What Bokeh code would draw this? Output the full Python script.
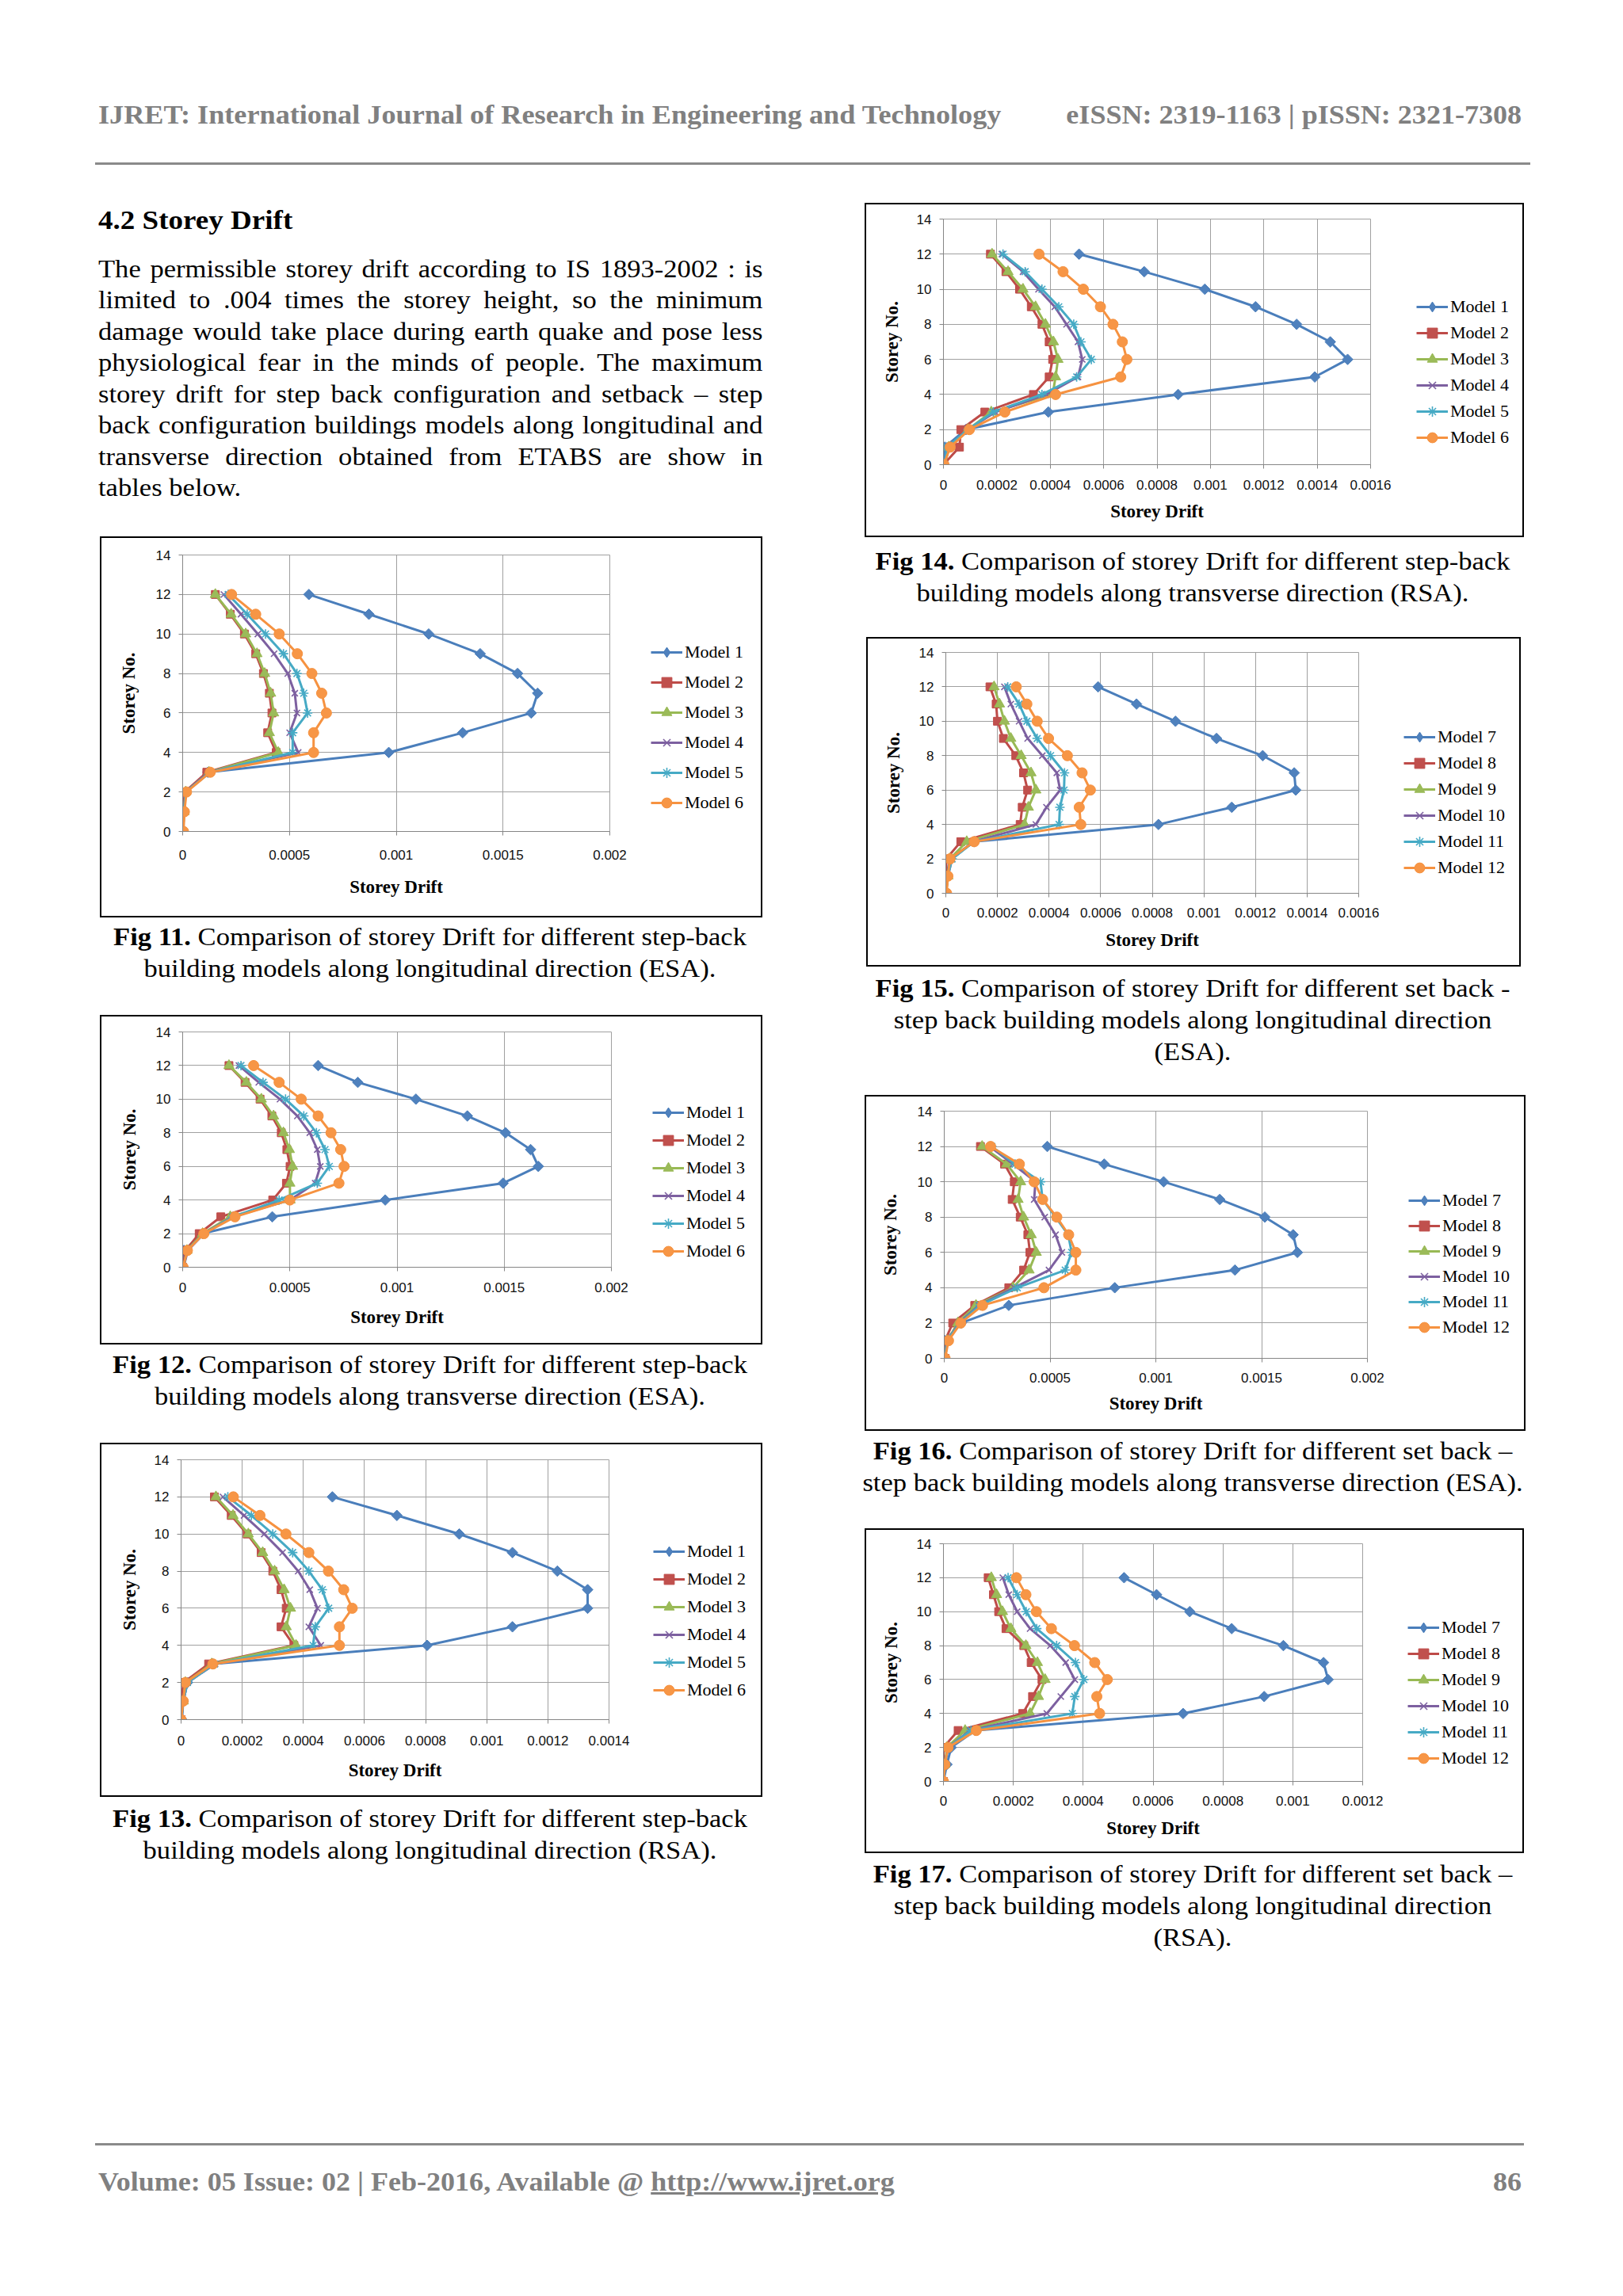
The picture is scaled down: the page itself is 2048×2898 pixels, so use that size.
import math
from bokeh.plotting import figure
from bokeh.models import (Range1d, FixedTicker, CustomJSTickFormatter, Legend,
                          LegendItem, Div, Spacer)
from bokeh.layouts import column, row
from bokeh.embed import file_html
from bokeh.resources import INLINE

# ---------------------------------------------------------------- data
STOREY = [0, 1, 2, 3, 4, 5, 6, 7, 8, 9, 10, 11, 12]
Y_TICKS = [0, 2, 4, 6, 8, 10, 12, 14]
Y_TICK_LABELS = ["0", "2", "4", "6", "8", "10", "12", "14"]

X_TICKS_0020 = [0, 0.0005, 0.001, 0.0015, 0.002]
X_LABELS_0020 = ["0", "0.0005", "0.001", "0.0015", "0.002"]
X_TICKS_0014 = [0, 0.0002, 0.0004, 0.0006, 0.0008, 0.001, 0.0012, 0.0014]
X_LABELS_0014 = ["0", "0.0002", "0.0004", "0.0006", "0.0008", "0.001", "0.0012", "0.0014"]
X_TICKS_0016 = [0, 0.0002, 0.0004, 0.0006, 0.0008, 0.001, 0.0012, 0.0014, 0.0016]
X_LABELS_0016 = ["0", "0.0002", "0.0004", "0.0006", "0.0008", "0.001", "0.0012", "0.0014", "0.0016"]
X_TICKS_0012 = [0, 0.0002, 0.0004, 0.0006, 0.0008, 0.001, 0.0012]
X_LABELS_0012 = ["0", "0.0002", "0.0004", "0.0006", "0.0008", "0.001", "0.0012"]

MODELS_STEP_BACK = ["Model 1", "Model 2", "Model 3", "Model 4", "Model 5", "Model 6"]
MODELS_SET_BACK = ["Model 7", "Model 8", "Model 9", "Model 10", "Model 11", "Model 12"]

# Fig 11 - step back, longitudinal, ESA (storey 0 .. 12)
F11_M1 = [0.000002, 0.000004, 0.000014, 0.000118, 0.000965, 0.001311, 0.001632, 0.001662, 0.001568, 0.001393, 0.001152, 0.000872, 0.000591]
F11_M2 = [0.0, 0.000002, 0.000010, 0.000113, 0.000438, 0.000398, 0.000418, 0.000406, 0.000378, 0.000342, 0.000289, 0.000223, 0.000153]
F11_M3 = [0.000002, 0.000006, 0.000014, 0.000123, 0.000448, 0.000406, 0.000426, 0.000412, 0.000384, 0.000348, 0.000295, 0.000227, 0.000153]
F11_M4 = [0.000002, 0.000006, 0.000014, 0.000123, 0.000541, 0.000501, 0.000535, 0.000525, 0.000492, 0.000428, 0.000352, 0.000273, 0.000193]
F11_M5 = [0.000002, 0.000006, 0.000014, 0.000129, 0.000515, 0.000515, 0.000585, 0.000567, 0.000535, 0.000472, 0.000388, 0.000302, 0.000213]
F11_M6 = [0.000004, 0.000008, 0.000018, 0.000129, 0.000613, 0.000613, 0.000673, 0.000651, 0.000605, 0.000537, 0.000452, 0.000342, 0.000229]

# Fig 12 - step back, transverse, ESA
F12_M1 = [0.0, 0.000006, 0.000093, 0.000418, 0.000945, 0.001495, 0.001659, 0.001623, 0.001506, 0.001328, 0.001088, 0.000817, 0.000632]
F12_M2 = [0.0, 0.000014, 0.000077, 0.000178, 0.000420, 0.000484, 0.000501, 0.000486, 0.000460, 0.000416, 0.000361, 0.000291, 0.000216]
F12_M3 = [0.000004, 0.000020, 0.000093, 0.000222, 0.000501, 0.000500, 0.000513, 0.000498, 0.000470, 0.000424, 0.000367, 0.000297, 0.000216]
F12_M4 = [0.000004, 0.000024, 0.000099, 0.000232, 0.000500, 0.000618, 0.000642, 0.000628, 0.000593, 0.000535, 0.000454, 0.000355, 0.000262]
F12_M5 = [0.000004, 0.000020, 0.000099, 0.000236, 0.000450, 0.000628, 0.000684, 0.000664, 0.000624, 0.000565, 0.000480, 0.000375, 0.000272]
F12_M6 = [0.000002, 0.000022, 0.000099, 0.000244, 0.000500, 0.000729, 0.000753, 0.000737, 0.000692, 0.000632, 0.000553, 0.000450, 0.000331]

# Fig 13 - step back, longitudinal, RSA
F13_M1 = [0.000003, 0.000007, 0.000021, 0.000104, 0.000805, 0.001084, 0.001330, 0.001330, 0.001231, 0.001084, 0.000910, 0.000706, 0.000495]
F13_M2 = [0.0, 0.0, 0.000008, 0.000090, 0.000369, 0.000327, 0.000344, 0.000327, 0.000300, 0.000262, 0.000216, 0.000164, 0.000109]
F13_M3 = [0.0, 0.000007, 0.000014, 0.000100, 0.000376, 0.000344, 0.000358, 0.000337, 0.000306, 0.000267, 0.000220, 0.000170, 0.000114]
F13_M4 = [0.0, 0.000007, 0.000021, 0.000111, 0.000457, 0.000418, 0.000446, 0.000421, 0.000383, 0.000332, 0.000272, 0.000206, 0.000137]
F13_M5 = [0.0, 0.000007, 0.000021, 0.000109, 0.000432, 0.000439, 0.000483, 0.000462, 0.000418, 0.000365, 0.000300, 0.000230, 0.000153]
F13_M6 = [0.0, 0.000007, 0.000014, 0.000104, 0.000518, 0.000518, 0.000560, 0.000532, 0.000482, 0.000418, 0.000343, 0.000258, 0.000171]

# Fig 14 - step back, transverse, RSA
F14_M1 = [0.0, 0.000005, 0.000084, 0.000393, 0.000879, 0.001391, 0.001514, 0.001449, 0.001323, 0.001169, 0.000979, 0.000752, 0.000508]
F14_M2 = [0.0, 0.000060, 0.000065, 0.000155, 0.000337, 0.000396, 0.000409, 0.000396, 0.000369, 0.000329, 0.000285, 0.000234, 0.000176]
F14_M3 = [0.000005, 0.000020, 0.000092, 0.000179, 0.000409, 0.000420, 0.000429, 0.000412, 0.000382, 0.000345, 0.000298, 0.000242, 0.000182]
F14_M4 = [0.000005, 0.000020, 0.000092, 0.000195, 0.000385, 0.000504, 0.000520, 0.000504, 0.000461, 0.000417, 0.000356, 0.000298, 0.000219]
F14_M5 = [0.000005, 0.000013, 0.000092, 0.000187, 0.000369, 0.000499, 0.000554, 0.000515, 0.000488, 0.000432, 0.000369, 0.000306, 0.000223]
F14_M6 = [0.000002, 0.000025, 0.000097, 0.000230, 0.000420, 0.000664, 0.000687, 0.000670, 0.000635, 0.000588, 0.000524, 0.000448, 0.000358]

# Fig 15 - set back / step back, longitudinal, ESA
F15_M7 = [0.0, 0.000003, 0.000016, 0.000110, 0.000824, 0.001108, 0.001356, 0.001350, 0.001228, 0.001049, 0.000890, 0.000739, 0.000590]
F15_M8 = [0.0, 0.0, 0.000002, 0.000058, 0.000288, 0.000296, 0.000317, 0.000301, 0.000271, 0.000223, 0.000200, 0.000195, 0.000171]
F15_M9 = [0.0, 0.000008, 0.000016, 0.000081, 0.000305, 0.000320, 0.000349, 0.000330, 0.000292, 0.000252, 0.000227, 0.000208, 0.000187]
F15_M10 = [0.0, 0.000008, 0.000024, 0.000106, 0.000349, 0.000390, 0.000443, 0.000430, 0.000374, 0.000317, 0.000284, 0.000252, 0.000227]
F15_M11 = [0.0, 0.000008, 0.000024, 0.000110, 0.000439, 0.000442, 0.000458, 0.000460, 0.000406, 0.000354, 0.000314, 0.000284, 0.000240]
F15_M12 = [0.000003, 0.000008, 0.000016, 0.000110, 0.000523, 0.000517, 0.000560, 0.000528, 0.000471, 0.000398, 0.000354, 0.000314, 0.000273]

# Fig 16 - set back / step back, transverse, ESA
F16_M7 = [0.0, 0.000004, 0.000080, 0.000305, 0.000806, 0.001374, 0.001669, 0.001649, 0.001515, 0.001302, 0.001037, 0.000756, 0.000487]
F16_M8 = [0.000004, 0.000004, 0.000040, 0.000144, 0.000305, 0.000375, 0.000405, 0.000395, 0.000359, 0.000321, 0.000331, 0.000285, 0.000171]
F16_M9 = [0.000004, 0.000014, 0.000064, 0.000150, 0.000325, 0.000401, 0.000435, 0.000411, 0.000375, 0.000349, 0.000361, 0.000295, 0.000179]
F16_M10 = [0.000004, 0.000014, 0.000070, 0.000164, 0.000331, 0.000495, 0.000556, 0.000526, 0.000475, 0.000425, 0.000431, 0.000325, 0.000215]
F16_M11 = [0.000004, 0.000014, 0.000074, 0.000169, 0.000345, 0.000572, 0.000602, 0.000586, 0.000526, 0.000465, 0.000455, 0.000335, 0.000225]
F16_M12 = [0.000004, 0.000020, 0.000078, 0.000181, 0.000471, 0.000622, 0.000622, 0.000588, 0.000532, 0.000465, 0.000425, 0.000355, 0.000219]

# Fig 17 - set back / step back, longitudinal, RSA
F17_M7 = [0.0, 0.000010, 0.000022, 0.000091, 0.000686, 0.000918, 0.001101, 0.001088, 0.000973, 0.000825, 0.000705, 0.000610, 0.000517]
F17_M8 = [0.0, 0.0, 0.0, 0.000042, 0.000227, 0.000255, 0.000282, 0.000251, 0.000230, 0.000179, 0.000158, 0.000143, 0.000128]
F17_M9 = [0.0, 0.000004, 0.000010, 0.000062, 0.000248, 0.000272, 0.000291, 0.000269, 0.000236, 0.000193, 0.000169, 0.000152, 0.000137]
F17_M10 = [0.0, 0.000004, 0.000013, 0.000076, 0.000296, 0.000336, 0.000376, 0.000350, 0.000306, 0.000248, 0.000211, 0.000187, 0.000170]
F17_M11 = [0.0, 0.000004, 0.000013, 0.000079, 0.000369, 0.000376, 0.000402, 0.000378, 0.000324, 0.000267, 0.000237, 0.000211, 0.000185]
F17_M12 = [0.0, 0.000004, 0.000013, 0.000094, 0.000447, 0.000439, 0.000469, 0.000433, 0.000375, 0.000309, 0.000266, 0.000236, 0.000209]

# ---------------------------------------------------------------- texts
HEADER_LEFT = "IJRET: International Journal of Research in Engineering and Technology"
HEADER_RIGHT = "eISSN: 2319-1163 | pISSN: 2321-7308"
SECTION_TITLE = "4.2 Storey Drift"
PARAGRAPH_LINES = [
    "The permissible storey drift according to IS 1893-2002 : is",
    "limited to .004 times the storey height, so the minimum",
    "damage would take place during earth quake and pose less",
    "physiological fear in the minds of people. The maximum",
    "storey drift for step back configuration and setback \u2013 step",
    "back configuration buildings models along longitudinal and",
    "transverse direction obtained from ETABS are show in",
    "tables below.",
]
CAP11 = ("Fig 11.", ["Comparison of storey Drift for different step-back",
                     "building models along longitudinal direction (ESA)."])
CAP12 = ("Fig 12.", ["Comparison of storey Drift for different step-back",
                     "building models along transverse direction (ESA)."])
CAP13 = ("Fig 13.", ["Comparison of storey Drift for different step-back",
                     "building models along longitudinal direction (RSA)."])
CAP14 = ("Fig 14.", ["Comparison of storey Drift for different step-back",
                     "building models along transverse direction (RSA)."])
CAP15 = ("Fig 15.", ["Comparison of storey Drift for different set back -",
                     "step back building models along longitudinal direction",
                     "(ESA)."])
CAP16 = ("Fig 16.", ["Comparison of storey Drift for different set back \u2013",
                     "step back building models along transverse direction (ESA)."])
CAP17 = ("Fig 17.", ["Comparison of storey Drift for different set back \u2013",
                     "step back building models along longitudinal direction",
                     "(RSA)."])
FOOTER_LEFT = 'Volume: 05 Issue: 02 | Feb-2016, Available @ <u>http://www.ijret.org</u>'
FOOTER_RIGHT = "86"

# ---------------------------------------------------------------- styles
LINE_COLORS = ["#4A7EBB", "#BE4B48", "#98B954", "#7D60A0", "#46AAC5", "#F69240"]
FILL_COLORS = ["#4F81BD", "#C0504D", "#9BBB59", "#8064A2", "#4BACC6", "#F79646"]
MARKERS = ["square", "square", "triangle", "x", "asterisk", "circle"]
LEGEND_MARKERS = ["diamond", "square", "triangle", "x", "asterisk", "circle"]
MARKER_SIZES = [9.5, 10, 13, 11, 12, 13]
MARKER_ANGLES = [math.pi / 4, 0, 0, 0, 0, 0]
GRID = "#a0a0a0"
AXIS = "#868686"
PAD_R = 30  # room right of the plot area for the last x tick label

FMT_CODE = """
let best = 0, bd = 1e9;
for (let i = 0; i < tv.length; i++) {
  const d = Math.abs(tv[i] - tick);
  if (d < bd) { bd = d; best = i; }
}
return tl[best];
"""


def add_series(p, series, i, markers):
    ln = p.line(series, STOREY, line_color=LINE_COLORS[i], line_width=3,
                line_join="round")
    mk = p.scatter(series, STOREY, marker=markers[i], size=MARKER_SIZES[i],
                   angle=MARKER_ANGLES[i] if markers is MARKERS else 0,
                   fill_color=FILL_COLORS[i], line_color=LINE_COLORS[i],
                   line_width=1.6 if markers[i] in ("x", "asterisk") else 1)
    return ln, mk


def make_chart(series, names, x_ticks, x_labels, W, H, borders, leg_xy,
               leg_spacing, xt_standoff, xl_standoff, yl_standoff):
    # W, H, borders describe the outer box (incl. its 2px black frame)
    l, r, t, b = borders
    fw = W - l - r
    w_in, h_in = W - 4, H - 4
    mw = (l - 2) + fw + PAD_R
    p = figure(width=mw, height=h_in, x_range=Range1d(0, x_ticks[-1]),
               y_range=Range1d(0, 14), output_backend="svg",
               toolbar_location=None, tools="",
               min_border_left=l - 2, min_border_right=PAD_R,
               min_border_top=t - 2, min_border_bottom=b - 2,
               background_fill_color="white", border_fill_color="white",
               outline_line_color=GRID, outline_line_width=1)
    xt = FixedTicker(ticks=x_ticks)
    yt = FixedTicker(ticks=Y_TICKS)
    p.xaxis.ticker = xt
    p.yaxis.ticker = yt
    p.xgrid.ticker = xt
    p.ygrid.ticker = yt
    p.grid.grid_line_color = GRID
    p.grid.grid_line_width = 1
    p.xaxis.formatter = CustomJSTickFormatter(args=dict(tv=x_ticks, tl=x_labels), code=FMT_CODE)
    p.yaxis.formatter = CustomJSTickFormatter(args=dict(tv=Y_TICKS, tl=Y_TICK_LABELS), code=FMT_CODE)
    p.xaxis.axis_label = "Storey Drift"
    p.yaxis.axis_label = "Storey No."
    for ax in (p.xaxis[0], p.yaxis[0]):
        ax.axis_line_color = AXIS
        ax.major_tick_line_color = AXIS
        ax.major_tick_out = 5
        ax.major_tick_in = 0
        ax.minor_tick_line_color = None
        ax.major_label_text_font = "Liberation Sans"
        ax.major_label_text_font_size = "17px"
        ax.major_label_text_color = "#111111"
        ax.axis_label_text_font = "Liberation Serif"
        ax.axis_label_text_font_style = "bold"
        ax.axis_label_text_font_size = "23px"
        ax.axis_label_text_color = "#000000"
    p.xaxis.major_label_standoff = xt_standoff
    p.yaxis.major_label_standoff = 10
    p.xaxis.axis_label_standoff = xl_standoff
    p.yaxis.axis_label_standoff = yl_standoff
    for i, vals in enumerate(series):
        add_series(p, vals, i, MARKERS)

    # legend panel: same series, ranges chosen so that only the legend shows
    lp = figure(width=w_in - mw, height=h_in, x_range=Range1d(1, 2),
                y_range=Range1d(100, 101), output_backend="svg",
                toolbar_location=None, tools="", x_axis_location=None,
                y_axis_location=None, min_border=0,
                background_fill_color="white", border_fill_color="white",
                outline_line_color=None)
    lp.grid.visible = False
    items = []
    for i, (vals, name) in enumerate(zip(series, names)):
        ln, mk = add_series(lp, vals, i, LEGEND_MARKERS)
        items.append(LegendItem(label=name, renderers=[ln, mk]))
    leg = Legend(items=items, location=leg_xy, orientation="vertical",
                 glyph_width=40, glyph_height=32, label_height=32,
                 spacing=leg_spacing, label_standoff=3, padding=0, margin=0,
                 border_line_color=None, background_fill_alpha=0,
                 label_text_font="Liberation Serif", label_text_font_size="22px",
                 label_text_color="#000000")
    lp.add_layout(leg)
    return p, lp


fig11 = make_chart([F11_M1, F11_M2, F11_M3, F11_M4, F11_M5, F11_M6], MODELS_STEP_BACK,
                   X_TICKS_0020, X_LABELS_0020, 836, 481, (104, 193, 23, 109),
                   (22, 20), 6, 18, 19, 19)
fig12 = make_chart([F12_M1, F12_M2, F12_M3, F12_M4, F12_M5, F12_M6], MODELS_STEP_BACK,
                   X_TICKS_0020, X_LABELS_0020, 836, 416, (104, 191, 21, 98),
                   (22, 4), 3, 14, 16, 18)
fig13 = make_chart([F13_M1, F13_M2, F13_M3, F13_M4, F13_M5, F13_M6], MODELS_STEP_BACK,
                   X_TICKS_0014, X_LABELS_0014, 836, 447, (102, 194, 21, 98),
                   (26, 21), 3, 15, 16, 16)
fig14 = make_chart([F14_M1, F14_M2, F14_M3, F14_M4, F14_M5, F14_M6], MODELS_STEP_BACK,
                   X_TICKS_0016, X_LABELS_0016, 832, 422, (99, 194, 20, 92),
                   (28, 18), 1, 14, 12, 16)
fig15 = make_chart([F15_M7, F15_M8, F15_M9, F15_M10, F15_M11, F15_M12], MODELS_SET_BACK,
                   X_TICKS_0016, X_LABELS_0016, 826, 416, (100, 205, 19, 93),
                   (27, 16), 1, 13, 13, 17)
fig16 = make_chart([F16_M7, F16_M8, F16_M9, F16_M10, F16_M11, F16_M12], MODELS_SET_BACK,
                   X_TICKS_0020, X_LABELS_0020, 834, 424, (100, 200, 20, 92),
                   (22, 23), 0, 13, 11, 19)
fig17 = make_chart([F17_M7, F17_M8, F17_M9, F17_M10, F17_M11, F17_M12], MODELS_SET_BACK,
                   X_TICKS_0012, X_LABELS_0012, 832, 410, (99, 204, 19, 91),
                   (27, 13), 1, 13, 13, 17)

# ---------------------------------------------------------------- text blocks
SERIF = "font-family:'Liberation Serif',serif;"


def line_html(html, top, left=0, width=None, align="left", size=31, weight="normal",
              color="#000", scale=1.115, origin="left", extra="white-space:nowrap;"):
    w = f"width:{width}px;" if width is not None else ""
    return (f'<div style="position:absolute;left:{left}px;top:{top:.1f}px;{w}'
            f'height:40px;line-height:40px;{SERIF}font-size:{size}px;'
            f'font-weight:{weight};color:{color};text-align:{align};{extra}'
            f'transform:scaleX({scale});transform-origin:{origin} center;">{html}</div>')


def block(inner, w, h):
    return Div(text=f'<div style="position:relative;width:{w}px;height:{h}px;">{inner}</div>',
               width=w, height=h, margin=0)


def caption_block(cap, w, h, first_top, line_w):
    label, lines = cap
    parts = []
    for i, ln in enumerate(lines):
        txt = f"<b>{label}</b> {ln}" if i == 0 else ln
        parts.append(line_html(txt, first_top + 40 * i, 0, line_w, "center",
                               origin="center"))
    return block("".join(parts), w, h)


# header (page y 0..240)
hdr = (line_html(HEADER_LEFT, 124.5, 124, None, "left", 34, "bold", "#808080", 1.065, "left")
       + line_html(HEADER_RIGHT, 124.5, 0, 1920, "right", 34, "bold", "#808080", 1.06, "right")
       + '<div style="position:absolute;left:120px;top:205px;width:1811px;height:3px;background:#8a8a8a;"></div>')
header = block(hdr, 2040, 240)

# intro (page x 124, y 240..677)
intro = line_html(SECTION_TITLE, 17.8, 0, None, "left", 34, "bold", "#000", 1.09, "left")
for i, ln in enumerate(PARAGRAPH_LINES):
    just = "text-align-last:justify;" if i < len(PARAGRAPH_LINES) - 1 else ""
    intro += line_html(ln, 79.5 + 39.5 * i, 0, 752, "justify", 31, "normal", "#000",
                       1.115, "left", extra=just)
intro_div = block(intro, 840, 437)

cap11 = caption_block(CAP11, 840, 123, 4.5, 837)
cap12 = caption_block(CAP12, 840, 124, 5.5, 837)
cap13 = caption_block(CAP13, 840, 212, 7.5, 837)
cap14 = caption_block(CAP14, 836, 126, 10.5, 830)
cap15 = caption_block(CAP15, 836, 162, 7.5, 830)
cap16 = caption_block(CAP16, 836, 123, 5.5, 830)
cap17 = caption_block(CAP17, 836, 141, 6.5, 830)

# footer (page y 2480..2890)
ftr = ('<div style="position:absolute;left:120px;top:225px;width:1803px;height:3px;background:#8a8a8a;"></div>'
       + line_html(FOOTER_LEFT, 253.5, 124, None, "left", 34, "bold", "#808080", 1.06, "left")
       + line_html(FOOTER_RIGHT, 253.5, 0, 1920, "right", 34, "bold", "#808080", 1.06, "right"))
footer = block(ftr, 2040, 410)


def bar(w, h):
    return Div(text="", width=w, height=h, margin=0,
               styles={"background-color": "#000000"})


def boxed(chart, dx):
    p, lp = chart
    h = p.height
    W, H = p.width + lp.width + 4, h + 4
    framed = column(bar(W, 2),
                    row(bar(2, h), p, lp, bar(2, h)),
                    bar(W, 2))
    return row(Spacer(width=dx, height=H, margin=0), framed)


left_col = column(intro_div,
                  boxed(fig11, 2), cap11,
                  boxed(fig12, 2), cap12,
                  boxed(fig13, 2), cap13)
right_col = column(Spacer(width=836, height=16, margin=0),
                   boxed(fig14, 1), cap14,
                   boxed(fig15, 3), cap15,
                   boxed(fig16, 1), cap16,
                   boxed(fig17, 1), cap17)
body = row(Spacer(width=124, height=2240, margin=0), left_col,
           Spacer(width=126, height=2240, margin=0), right_col)
page = column(header, body, footer)

open("out.html", "w").write(file_html(page, INLINE))
